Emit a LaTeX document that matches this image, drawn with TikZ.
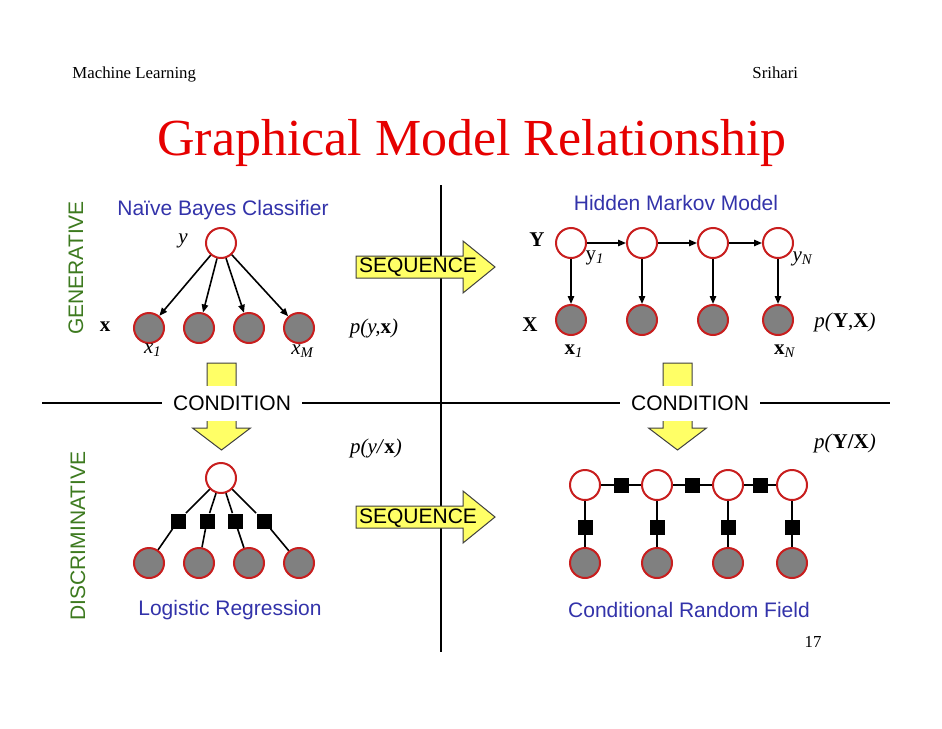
\documentclass[tikz,border=0pt]{standalone}
\usepackage{fontspec}
\setmainfont{Liberation Serif}
\setsansfont{Liberation Sans}
\usepackage{tikz}
\usetikzlibrary{
arrows.meta,
positioning
}
\definecolor{slidered}{RGB}{230,0,0}
\definecolor{nodered}{RGB}{200,30,30}
\definecolor{nodegray}{RGB}{128,128,128}
\definecolor{modelblue}{RGB}{51,51,170}
\definecolor{sidegreen}{RGB}{61,122,31}
\definecolor{arrowyellow}{RGB}{255,255,102}

\begin{document}
\begin{tikzpicture}[
  x=0.5pt, y=-0.5pt,
  >={Triangle[length=4pt, width=3.2pt]},
  latent/.style={circle, draw=nodered, fill=white, line width=1pt,
    minimum size=15pt, inner sep=0pt},
  observed/.style={latent, fill=nodegray},
  factor/.style={rectangle, fill=black, minimum size=7.5pt, inner sep=0pt},
  edge/.style={line width=0.8pt, black},
  blockarrow/.style={fill=arrowyellow, draw=black!75, line width=0.5pt},
  modeltitle/.style={font=\fontsize{10.5}{12}\selectfont\sffamily, text=modelblue, inner sep=0pt},
  sidelabel/.style={font=\fontsize{10.5}{12}\selectfont\sffamily, text=sidegreen, rotate=90, inner sep=0pt},
  arrowtext/.style={font=\fontsize{10.5}{12}\selectfont\sffamily, inner sep=0pt},
  condlabel/.style={font=\fontsize{10.5}{12}\selectfont\sffamily, fill=white,
    inner xsep=5.5pt, inner ysep=0pt, minimum height=17.5pt},
  varlabel/.style={font=\fontsize{10.5}{12}\selectfont, inner sep=0pt},
  headlabel/.style={font=\fontsize{8.4}{10}\selectfont, inner sep=0pt}
]
\useasboundingbox[fill=white] (0,0) rectangle (942,728);

%% ── HEADER ──────────────────────────────────────────────────────
\node[headlabel, anchor=base west] (hdr-left) at (72,78) {Machine Learning};
\node[headlabel, anchor=base west] (hdr-right) at (752,78) {Srihari};
\node[anchor=base, inner sep=0pt, text=slidered,
      font=\fontsize{26}{30}\selectfont] (title) at (472,155)
  {Graphical Model Relationship};

%% ── QUADRANT LINES ──────────────────────────────────────────────
\draw[line width=0.6pt] (42,403) -- (890,403);
\draw[line width=0.6pt] (441,185) -- (441,652);

%% side labels
\node[sidelabel] (gen) at (76,268) {GENERATIVE};
\node[sidelabel] (disc) at (78,536) {DISCRIMINATIVE};

%% ── NAIVE BAYES ─────────────────────────────────────────────────
\node[modeltitle] (nb-title) at (223,210) {Naïve Bayes Classifier};
\node[latent] (nb-y) at (221,243) {};
\foreach \i/\x in {1/149, 2/199, 3/249, 4/299}{
  \node[observed] (nb-x\i) at (\x,328) {};
  \draw[->, edge] (nb-y) -- (nb-x\i);
}
\node[varlabel] (nb-ylab) at (183,241) {\textit{y}};
\node[varlabel] (nb-xlab) at (105,327) {\textbf{x}};
\node[varlabel] (nb-x1lab) at (153,350) {\textit{x}\textsubscript{\textit{1}}};
\node[varlabel] (nb-xMlab) at (303,351) {\textit{x}\textsubscript{\textit{M}}};
\node[varlabel] (nb-p) at (374,328) {\textit{p(y,}\textbf{x}\textit{)}};

%% ── HIDDEN MARKOV MODEL ─────────────────────────────────────────
\node[modeltitle] (hmm-title) at (676,203) {Hidden Markov Model};
\foreach \i/\x in {1/571, 2/642, 3/713, 4/778}{
  \node[latent] (hmm-y\i) at (\x,243) {};
  \node[observed] (hmm-x\i) at (\x,320) {};
  \draw[->, edge] (hmm-y\i) -- (hmm-x\i);
}
\foreach \i/\j in {1/2, 2/3, 3/4}
  \draw[->, edge] (hmm-y\i) -- (hmm-y\j);
\node[varlabel] (hmm-Ylab) at (537,240) {\textbf{Y}};
\node[varlabel] (hmm-Xlab) at (530,325) {\textbf{X}};
\node[varlabel] (hmm-y1lab) at (595,258) {y\textsubscript{\textit{1}}};
\node[varlabel] (hmm-yNlab) at (803,259) {\textit{y}\textsubscript{\textit{N}}};
\node[varlabel] (hmm-x1lab) at (574,351) {\textbf{x}\textsubscript{\textit{1}}};
\node[varlabel] (hmm-xNlab) at (785,351) {\textbf{x}\textsubscript{\textit{N}}};
\node[varlabel] (hmm-p) at (845,322) {\textit{p(}\textbf{Y},\textbf{X}\textit{)}};

%% ── YELLOW ARROWS ───────────────────────────────────────────────
\foreach \y in {267, 517}
  \draw[blockarrow, shift={(356,\y)}]
    (0,-11) -- (107,-11) -- (107,-26) -- (139,0) -- (107,26)
    -- (107,11) -- (0,11) -- cycle;
\node[arrowtext] (seq-top) at (418,267) {SEQUENCE};
\node[arrowtext] (seq-bot) at (418,518) {SEQUENCE};

\foreach \x in {221.5, 677.5}
  \draw[blockarrow, shift={(\x,363)}]
    (-14.5,0) -- (14.5,0) -- (14.5,65) -- (29,65) -- (0,87)
    -- (-29,65) -- (-14.5,65) -- cycle;
\node[condlabel] (cond-l) at (232,403) {CONDITION};
\node[condlabel] (cond-r) at (690,403) {CONDITION};

%% ── LOGISTIC REGRESSION ─────────────────────────────────────────
\node[latent] (lr-y) at (221,478) {};
\foreach \i/\x/\f in {1/149/178, 2/199/207, 3/249/235, 4/299/264}{
  \node[observed] (lr-x\i) at (\x,563) {};
  \node[factor] (lr-f\i) at (\f,521) {};
  \draw[edge] (lr-y) -- (lr-f\i) -- (lr-x\i);
}
\node[modeltitle] (lr-title) at (230,610) {Logistic Regression};
\node[varlabel] (lr-p) at (376,448) {\textit{p(y/}\textbf{x}\textit{)}};

%% ── CONDITIONAL RANDOM FIELD ────────────────────────────────────
\foreach \i/\x in {1/585, 2/657, 3/728, 4/792}{
  \node[latent] (crf-y\i) at (\x,485) {};
  \node[observed] (crf-x\i) at (\x,563) {};
  \draw[edge] (crf-y\i) -- node[factor, pos=0.58] (crf-v\i) {} (crf-x\i);
}
\foreach \i/\j in {1/2, 2/3, 3/4}
  \draw[edge] (crf-y\i) -- node[factor] (crf-h\i) {} (crf-y\j);
\node[modeltitle] (crf-title) at (689,610) {Conditional Random Field};
\node[varlabel] (crf-p) at (845,443) {\textit{p(}\textbf{Y/X}\textit{)}};

%% page number
\node[headlabel] (pagenum) at (813,642) {17};

\end{tikzpicture}
\end{document}
